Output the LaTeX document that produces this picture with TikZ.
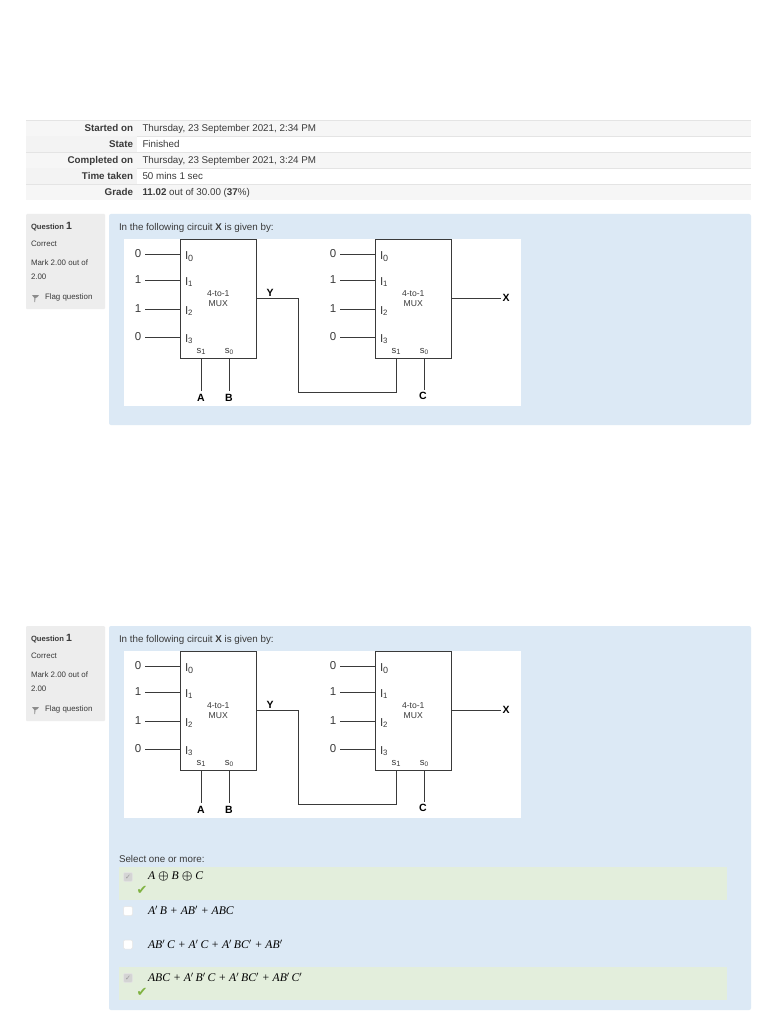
\documentclass[tikz,border=0pt]{standalone}
\usepackage{fontspec}
\setmainfont{Liberation Sans}
\newfontfamily\mathserif{Liberation Serif}
\newfontfamily\dejavu{DejaVu Sans}
\usetikzlibrary{calc}
\definecolor{panelblue}{HTML}{DCE9F5}
\definecolor{sidegray}{HTML}{EDEDED}
\definecolor{rowgray}{HTML}{F6F6F6}
\definecolor{rowline}{HTML}{E4E4E4}
\definecolor{okgreen}{HTML}{E3EEDC}
\definecolor{txt}{HTML}{3A3A3A}
\definecolor{wire}{HTML}{3A3A3A}
\definecolor{tick}{HTML}{7FB241}
\tikzset{
  every node/.style={inner sep=0pt,outer sep=0pt,text=txt},
  plain/.style={font=\fontsize{9.8}{11}\selectfont,anchor=west,text height=7pt,text depth=2pt,yshift=-0.8pt},
  tlabel/.style={font=\fontsize{9.8}{11}\selectfont\bfseries,anchor=east,text height=7pt,text depth=2pt,yshift=-0.8pt},
  side/.style={font=\fontsize{7.9}{9}\selectfont,anchor=west},
  muxbox/.style={draw=wire,line width=0.7pt,minimum width=76.5pt,minimum height=119.5pt,anchor=north west},
  wired/.style={draw=wire,line width=0.7pt},
  bit/.style={font=\fontsize{11.5}{12}\selectfont,text=wire},
  pin/.style={font=\fontsize{11.5}{12}\selectfont,anchor=west,text=wire,text height=8pt,text depth=0pt},
  sel/.style={font=\fontsize{9.5}{10}\selectfont,text=wire},
  sig/.style={font=\fontsize{10.5}{12}\selectfont\bfseries,text=black},
  muxtext/.style={font=\fontsize{8.6}{10}\selectfont,align=center,text=wire},
  formula/.style={font=\mathserif\itshape\fontsize{11.7}{12}\selectfont,anchor=west,text=black},
  cbox/.style={draw=black!10,fill=white,rounded corners=1.2pt,minimum width=9pt,minimum height=9pt,line width=0.5pt},
  cboxon/.style={cbox,fill=black!17,font=\dejavu\fontsize{7}{7}\selectfont,text=black!40},
  greentick/.style={font=\dejavu\fontsize{13}{13}\selectfont,text=tick},
}
\newcommand{\sbs}[1]{\ifnum#1=0 \raisebox{-2.2pt}{\fontsize{9}{9}\selectfont #1}\else\raisebox{-1pt}{\fontsize{7.8}{8}\selectfont #1}\fi}
\newcommand{\muxunit}[3]{% prefix, left x, top y
  \node[muxbox] (#1m) at (#2,#3) {};
  \node[muxtext] (#1t) at ($(#1m.center)+(0,0)$) {4-to-1\\MUX};
  \foreach \n/\v/\d in {0/0/15,1/1/41,2/1/70,3/0/98}{
    \node[bit] (#1v\n) at ($(#1m.north west)+(-42,\d)$) {\v};
    \node[pin] (#1p\n) at ($(#1m.north west)+(5,\d+1)$) {I\sbs{\n}};
    \draw[wired] ($(#1v\n.center)+(7,0)$) -- ($(#1m.west|-#1v\n.center)$);
  }
  \node[sel] (#1s1) at ($(#1m.south west)+(21,-7)$) {s\raisebox{-1.6pt}{\fontsize{7.5}{8}\selectfont 1}};
  \node[sel] (#1s0) at ($(#1m.south west)+(49,-7)$) {s\raisebox{-1.6pt}{\fontsize{6.5}{8}\selectfont 0}};
}
\newcommand{\circuit}[2]{% prefix, y offset
  \begin{scope}[shift={(0,#2)}]
    \node[fill=white,minimum width=397pt,minimum height=167pt,anchor=north west] (#1bg) at (124,239) {};
    \muxunit{#1a}{180}{239}
    \muxunit{#1b}{375}{239}
    \node[sig] (#1A) at (201,398) {A};
    \node[sig] (#1B) at (229,398) {B};
    \node[sig] (#1C) at (423,396) {C};
    \node[sig] (#1X) at (506,298) {X};
    \node[sig] (#1Y) at (270,293) {Y};
    \coordinate (#1corner1) at (298,298);
    \coordinate (#1corner2) at (298,392);
    \coordinate (#1s1in) at (396,392);
    \draw[wired] (#1am.south west -| #1as1) -- ($(#1A.north -| #1as1)+(0,-3)$);
    \draw[wired] (#1am.south west -| #1as0) -- ($(#1B.north -| #1as0)+(0,-3)$);
    \draw[wired] (#1bm.south west -| #1bs0) -- ($(#1C.north -| #1bs0)+(0,-2)$);
    \draw[wired] (#1am.east |- #1corner1) -- (#1corner1) -- (#1corner2) -- (#1s1in) -- (#1s1in |- #1bm.south);
    \draw[wired] (#1bm.east |- #1corner1) -- ($(#1X.west)+(-2,0)$);
  \end{scope}
}
\newcommand{\sidepanel}[2]{% prefix, y offset
  \begin{scope}[shift={(#2)}]
    \node[fill=sidegray,rounded corners=1pt,minimum width=79pt,minimum height=95pt,anchor=north west] (#1side) at (26,214) {};
    \node[side,font=\fontsize{7.6}{9}\selectfont\bfseries] (#1q) at (31,226.5) {Question \fontsize{10.5}{10}\selectfont 1};
    \node[side] (#1c) at (31,243.5) {Correct};
    \node[side] (#1m1) at (31,263) {Mark 2.00 out of};
    \node[side] (#1m2) at (31,277) {2.00};
    \node[side] (#1f) at (45,297) {Flag question};
    \fill[black!45] (32,295) -- (39,295) -- (37.5,297) -- (35.5,298) -- (35,302) -- (34.4,302) -- (34.4,298) -- cycle;
  \end{scope}
}
\begin{document}
\begin{tikzpicture}[x=1pt,y=-1pt]
\useasboundingbox (0,0) rectangle (768,1024);
\fill[white] (0,0) rectangle (768,1024);
% summary table
\foreach \t/\c [count=\i] in {120/rowgray,136/white,152/rowgray,168/white,184/rowgray}{
  \fill[\c] (26,\t) rectangle (751,\t+16);
  \draw[rowline,line width=0.4pt] (26,\t) -- (751,\t);
}
\fill[sidegray!70] (26,136) rectangle (137,152);
\fill[sidegray!70] (26,168) rectangle (137,184);
\foreach \y/\a/\b [count=\i] in {
  128/Started on/{Thursday, 23 September 2021, 2:34 PM},
  144/State/Finished,
  160/Completed on/{Thursday, 23 September 2021, 3:24 PM},
  176/Time taken/50 mins 1 sec,
  192/Grade/{\textbf{11.02} out of 30.00 (\textbf{37}\%)}}{
  \node[tlabel] (lab\i) at (133,\y) {\a};
  \node[plain] (val\i) at (142.5,\y) {\b};
}
% first question
\sidepanel{u}{0,0}
\fill[panelblue,rounded corners=2pt] (109,214) rectangle (751,425);
\node[plain] (uq) at (119,227.5) {In the following circuit \textbf{X} is given by:};
\circuit{u}{0}
% second question
\sidepanel{d}{0,412}
\fill[panelblue,rounded corners=2pt] (109,626) rectangle (751,1010);
\node[plain] (dq) at (119,639) {In the following circuit \textbf{X} is given by:};
\circuit{d}{412}
\node[plain] (sel) at (119,859.5) {Select one or more:};
\fill[okgreen] (119,867) rectangle (727,900);
\fill[okgreen] (119,967) rectangle (727,1000);
\node[cboxon] (c1) at (128,877) {✓};
\node[cbox] (c2) at (128,911) {};
\node[cbox] (c3) at (128,944.5) {};
\node[cboxon] (c4) at (128,978) {✓};
\node[greentick] (t1) at (142,890) {✔};
\node[greentick] (t4) at (142,992) {✔};
\node[formula] (f1) at (148,876.5) {A {\boldmath$\oplus$} B {\boldmath$\oplus$} C};
\node[formula] (f2) at (148,910.5) {A$'$\,B + AB$'$ + ABC};
\node[formula] (f3) at (148,944) {AB$'$\,C + A$'$\,C + A$'$\,BC$'$ + AB$'$};
\node[formula] (f4) at (148,977.5) {ABC + A$'$\,B$'$\,C + A$'$\,BC$'$ + AB$'$\,C$'$};
\end{tikzpicture}
\end{document}
